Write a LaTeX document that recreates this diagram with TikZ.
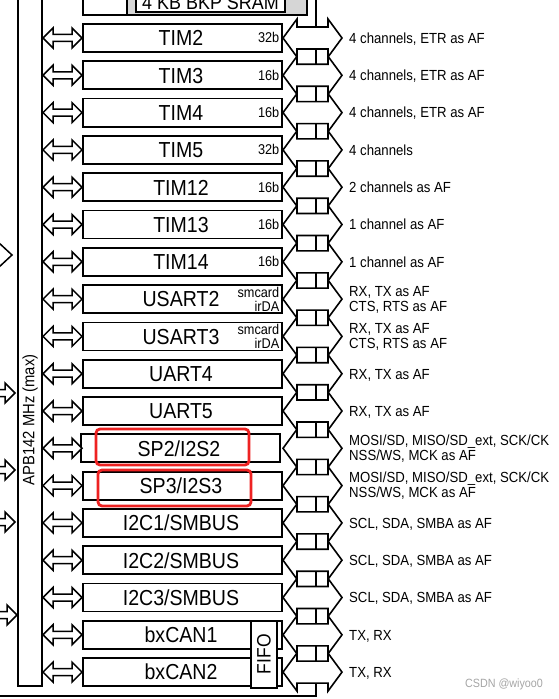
\documentclass[tikz,border=0pt]{standalone}
\usepackage{fontspec}
\setmainfont{Liberation Sans}[FakeStretch=0.9]
\usetikzlibrary{calc}
\definecolor{hl}{RGB}{238,34,34}
\definecolor{sramgray}{RGB}{214,214,214}
\definecolor{wmgray}{RGB}{165,165,165}
\newcommand\tabL[1]{\begin{tabular}[b]{@{}l@{}}#1\end{tabular}}
\newcommand\tabR[1]{\begin{tabular}[b]{@{}r@{}}#1\end{tabular}}
% #1 index, #2 name, #3 small label, #4 its baseline offset, #5 right text, #6 its baseline offset, #7 x shift
\newcommand\prow[7]{%
  \pgfmathsetmacro\cy{38+#1*37.3}%
  \node[pbox] (b#1) at ({182.5+(#7)},\cy) {};
  \node[plbl] (n#1) at ({181+(#7)},{\cy+7.8}) {#2};
  \if\relax\detokenize{#3}\relax\else
    \node[psmall] (s#1) at (279.5,{\cy+(#4)}) {\tabR{#3}};
  \fi
  \node[pright] (r#1) at (349,{\cy+(#6)}) {\tabL{#5}};
  \draw[larr] (b#1.west -| lx) -- ++(10,-10) -- ++(0,6.5) -- ++(19,0) -- ++(0,-6.5) -- ++(10,10)
     -- ++(-10,10) -- ++(0,-6.5) -- ++(-19,0) -- ++(0,6.5) -- cycle;
  \draw[rarr] (b#1.east -| rx) -- ++(14,-19) -- ++(0,8) -- ++(31,0) -- ++(0,-8) -- ++(14,19)
     -- ++(-14,19) -- ++(0,-8) -- ++(-31,0) -- ++(0,8) -- cycle;
}
\begin{document}
\begin{tikzpicture}[x=1bp,y=-1bp,
  pbox/.style={draw, line width=1.8bp, fill=white, minimum width=199bp, minimum height=28bp, inner sep=0pt},
  plbl/.style={anchor=base, inner sep=0pt, font=\fontsize{21.8}{24}\selectfont},
  psmall/.style={anchor=base east, inner sep=0pt, font=\fontsize{14.2}{11}\selectfont},
  pright/.style={anchor=base west, inner sep=0pt, font=\fontsize{14.7}{15}\selectfont},
  larr/.style={draw, fill=white, line width=1.5bp, line join=miter},
  rarr/.style={draw, fill=white, line width=1.6bp, line join=miter},
  inarr/.style={draw, line width=1.5bp, line join=miter},
  hlbox/.style={draw=hl, line width=2.8bp, rounded corners=4bp, inner sep=0pt, minimum width=153bp, minimum height=36bp},
  thin/.style={line width=1.6bp}
]
\useasboundingbox (0,0) rectangle (559,699);
\clip (0,0) rectangle (559,699);

\coordinate (lx) at (43,0);
\coordinate (rx) at (283,0);

% top: backup SRAM block (cut by the top edge)
\draw[thin, fill=white] (83,-10) rectangle (307,15);
\draw[thin, fill=sramgray] (127,-10) rectangle (307,15);
\draw[line width=1.4bp, fill=white] (136,-10) rectangle (285,12);
\node[anchor=base, inner sep=0pt, font=\fontsize{20}{22}\selectfont] (sram) at (210.5,10) {4 KB BKP SRAM};

% right-hand bus line and bottom line
\coordinate (bt) at (316,-5);
\coordinate (bb) at (316,696);
\coordinate (bl) at (-5,696);
\draw[thin] (bt) -- (bb) -- (bl);

% APB1 bus
\node[draw, line width=1.6bp, minimum width=24bp, minimum height=700bp, inner sep=0pt] (apb) at (30,336) {};
\node[rotate=90, inner sep=0pt, font=\fontsize{16.5}{18}\selectfont] (apbl) at (30,420) {APB142 MHz (max)};

% incoming arrows at the left edge
\draw[inarr] (-2,242) -- (12,255) -- (-2,268);
\foreach \yy/\tx in {393/15, 470/15, 522/15, 615/17}{
  \draw[inarr] (-3,\yy-3.5) -- ++(\tx-7,0) -- ++(0,-6.5) -- (\tx,\yy) -- ++(-10,10) -- ++(0,-6.5) -- ++(-\tx+7,0);
}

\prow{0}{TIM2}{32b}{5}{4 channels, ETR as AF}{5.3}{0}
\prow{1}{TIM3}{16b}{5}{4 channels, ETR as AF}{5.3}{0}
\prow{2}{TIM4}{16b}{5}{4 channels, ETR as AF}{5.3}{0}
\prow{3}{TIM5}{32b}{5}{4 channels}{5.3}{0}
\prow{4}{TIM12}{16b}{5}{2 channels as AF}{5.3}{0}
\prow{5}{TIM13}{16b}{5}{1 channel as AF}{5.3}{0}
\prow{6}{TIM14}{16b}{5}{1 channel as AF}{5.3}{0}
\prow{7}{USART2}{smcard\\irDA}{12}{RX, TX as AF\\CTS, RTS as AF}{12.2}{0}
\prow{8}{USART3}{smcard\\irDA}{12}{RX, TX as AF\\CTS, RTS as AF}{12.2}{0}
\prow{9}{UART4}{}{0}{RX, TX as AF}{5.3}{0}
\prow{10}{UART5}{}{0}{RX, TX as AF}{5.3}{0}
\prow{11}{SP2/I2S2}{}{0}{MOSI/SD, MISO/SD\_ext, SCK/CK\\NSS/WS, MCK as AF}{12.2}{-2}
\prow{12}{SP3/I2S3}{}{0}{MOSI/SD, MISO/SD\_ext, SCK/CK\\NSS/WS, MCK as AF}{12.2}{0}
\prow{13}{I2C1/SMBUS}{}{0}{SCL, SDA, SMBA as AF}{5.3}{0}
\prow{14}{I2C2/SMBUS}{}{0}{SCL, SDA, SMBA as AF}{5.3}{0}
\prow{15}{I2C3/SMBUS}{}{0}{SCL, SDA, SMBA as AF}{5.3}{0}
\prow{16}{bxCAN1}{}{0}{TX, RX}{5.3}{0}
\prow{17}{bxCAN2}{}{0}{TX, RX}{5.3}{0}

% FIFO shared by the two CAN cells
\node[draw, fill=white, line width=1.6bp, rotate=90, minimum width=67bp, minimum height=26.5bp, inner sep=0pt,
      font=\fontsize{19.5}{21}\selectfont] (fifo) at (264,654.3) {FIFO};

% red highlight frames
\node[hlbox] (h1) at (172.5,447) {};
\node[hlbox] (h2) at (174.5,488) {};

% watermark
\node[anchor=base, inner sep=0pt, text=wmgray, font=\fontsize{12}{14}\selectfont] (wm) at (504,687) {CSDN @wiyoo0};
\end{tikzpicture}
\end{document}
